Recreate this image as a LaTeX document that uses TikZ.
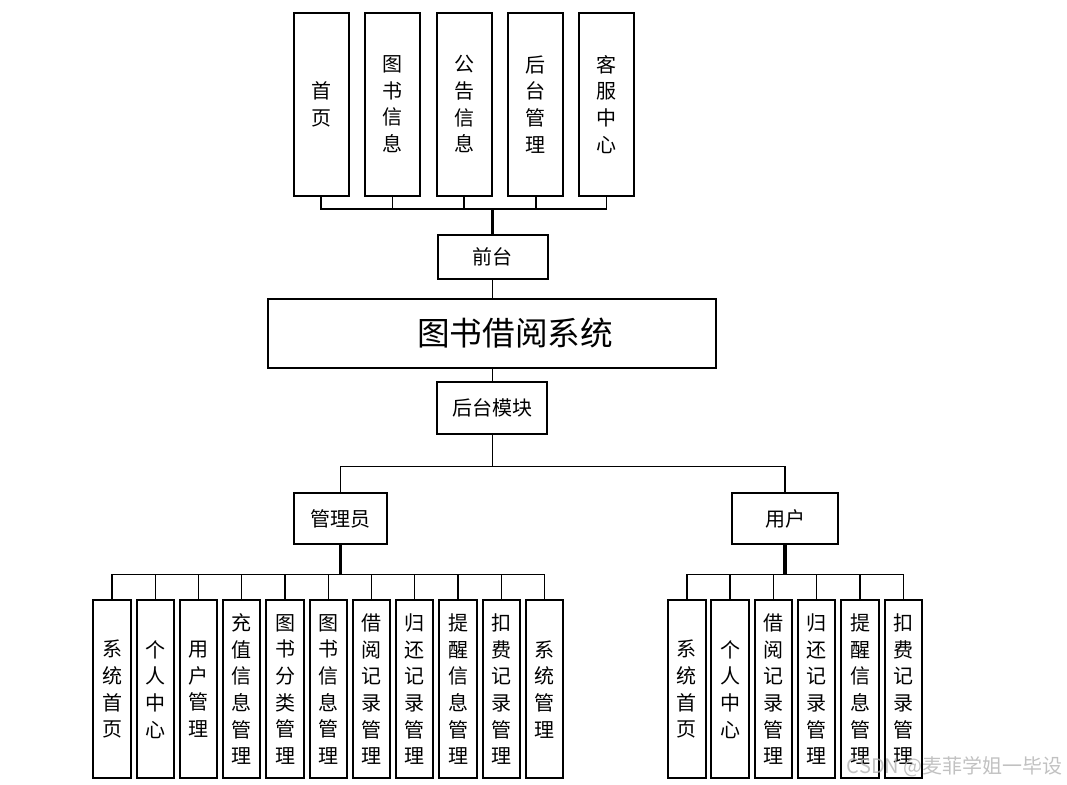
\documentclass[tikz,border=0pt]{standalone}
\usepackage{fontspec}
\newfontfamily\cjk{Noto Sans CJK SC}
\begin{document}
\begin{tikzpicture}[x=0.75pt,y=-0.75pt,
  box/.style={draw,line width=1.5pt,inner sep=0pt,align=center,
    font=\cjk\fontsize{15}{20}\selectfont},
  topbox/.style={box,minimum width=55*0.75pt,minimum height=183.5*0.75pt},
  leafbox/.style={box,minimum width=37.4*0.75pt,minimum height=178.3*0.75pt},
  link/.style={line width=1.1pt},
  trunk/.style={line width=2.3pt}]
\useasboundingbox (0,0) rectangle (1067,785);

% front-end pages
\node[topbox] (t1) at (321.0,104.3) {首\\页};
\node[topbox] (t2) at (392.7,104.3) {图\\书\\信\\息};
\node[topbox] (t3) at (464.2,104.3) {公\\告\\信\\息};
\node[topbox] (t4) at (535.8,104.3) {后\\台\\管\\理};
\node[topbox] (t5) at (606.7,104.3) {客\\服\\中\\心};

\node[box,minimum width=110*0.75pt,minimum height=43.5*0.75pt] (front) at (492.5,257) {前台};
\node[box,minimum width=447.7*0.75pt,minimum height=68.4*0.75pt] (main) at (492.2,333.5) {};
\node[font=\cjk\fontsize{24.5}{28}\selectfont,inner sep=0pt] (title) at (515,333.5) {图书借阅系统};
\node[box,minimum width=110*0.75pt,minimum height=52*0.75pt] (back) at (492.3,408) {后台模块};

\node[box,minimum width=93.3*0.75pt,minimum height=51.6*0.75pt] (admin) at (340.4,518.5) {管理员};
\node[box,minimum width=106.6*0.75pt,minimum height=51.6*0.75pt] (user) at (785,518.5) {用户};

% administrator functions
\foreach \t [count=\i from 0] in {系\\统\\首\\页, 个\\人\\中\\心, 用\\户\\管\\理,
    充\\值\\信\\息\\管\\理, 图\\书\\分\\类\\管\\理, 图\\书\\信\\息\\管\\理,
    借\\阅\\记\\录\\管\\理, 归\\还\\记\\录\\管\\理, 提\\醒\\信\\息\\管\\理,
    扣\\费\\记\\录\\管\\理, 系\\统\\管\\理}
  \node[leafbox] (a\i) at (112+43.25*\i,689.2) {\t};

% user functions
\foreach \t [count=\i from 0] in {系\\统\\首\\页, 个\\人\\中\\心,
    借\\阅\\记\\录\\管\\理, 归\\还\\记\\录\\管\\理, 提\\醒\\信\\息\\管\\理,
    扣\\费\\记\\录\\管\\理}
  \node[leafbox] (u\i) at (686.8+43.3*\i,689.2) {\t};

% junction points
\coordinate (fbus) at (492.5,209);
\coordinate (split) at (492.3,466.5);
\coordinate (abus) at (340.4,574.3);
\coordinate (ubus) at (785,574.3);

% connectors
\foreach \n in {t1,t2,t3,t4,t5} \draw[link] (\n.south) |- (fbus);
\draw[trunk] (fbus) -- (front.north);
\draw[link] (front.south) -- (front.south |- main.north);
\draw[link] (main.south -| back.north) -- (back.north);
\draw[link] (back.south) -- (split);
\draw[link] (split) -| (admin.north);
\draw[link] (split) -| (user.north);
\draw[trunk] (admin.south) -- (abus);
\foreach \i in {0,...,10} \draw[link] (a\i.north) |- (abus);
\draw[trunk] (user.south) -- (ubus);
\foreach \i in {0,...,5} \draw[link] (u\i.north) |- (ubus);

\node[anchor=east,inner sep=0pt,text=gray!60,opacity=0.8,
  font=\cjk\fontsize{15}{18}\selectfont] (mark) at (1063,767) {CSDN @麦菲学姐一毕设};
\end{tikzpicture}
\end{document}
